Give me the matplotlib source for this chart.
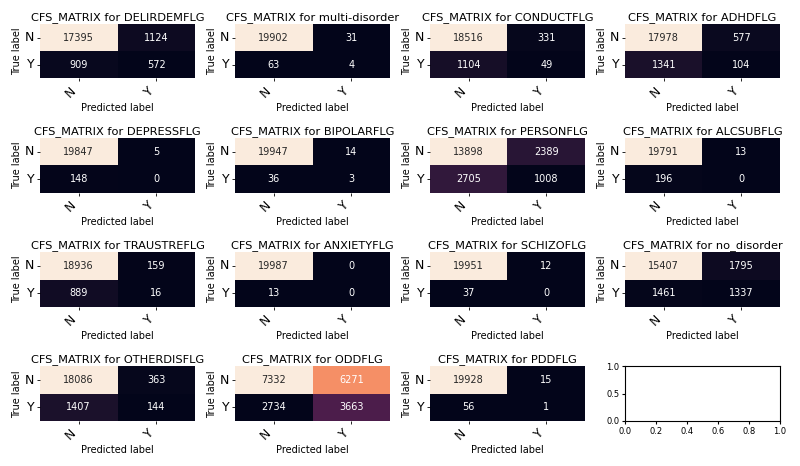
import matplotlib
matplotlib.use("Agg")
import matplotlib.pyplot as plt
import numpy as np
import seaborn as sns

# confusion matrices: [[TN, FP], [FN, TP]]
names = [
    "DELIRDEMFLG", "multi-disorder", "CONDUCTFLG", "ADHDFLG",
    "DEPRESSFLG", "BIPOLARFLG", "PERSONFLG", "ALCSUBFLG",
    "TRAUSTREFLG", "ANXIETYFLG", "SCHIZOFLG", "no_disorder",
    "OTHERDISFLG", "ODDFLG", "PDDFLG",
]
tn = [17395, 19902, 18516, 17978, 19847, 19947, 13898, 19791,
      18936, 19987, 19951, 15407, 18086, 7332, 19928]
fp = [1124, 31, 331, 577, 5, 14, 2389, 13,
      159, 0, 12, 1795, 363, 6271, 15]
fn = [909, 63, 1104, 1341, 148, 36, 2705, 196,
      889, 13, 37, 1461, 1407, 2734, 56]
tp = [572, 4, 49, 104, 0, 3, 1008, 0,
      16, 0, 0, 1337, 144, 3663, 1]
class_labels = ["N", "Y"]

fig, axes = plt.subplots(4, 4, figsize=(8.0, 4.66), dpi=100)
axes = axes.flatten()

for i, name in enumerate(names):
    ax = axes[i]
    cm = np.array([[tn[i], fp[i]], [fn[i], tp[i]]])
    sns.heatmap(cm, annot=True, fmt="d", cbar=False, ax=ax,
                xticklabels=class_labels, yticklabels=class_labels,
                annot_kws={"fontsize": 7})
    ax.set_title(f"CFS_MATRIX for {name}", fontsize=8.2, pad=3)
    ax.set_ylabel("True label", fontsize=7, labelpad=2)
    ax.set_xlabel("Predicted label", fontsize=7, labelpad=2)
    ax.set_yticklabels(class_labels, rotation=0, fontsize=9)
    ax.set_xticklabels(class_labels, rotation=45, ha="right", fontsize=9)
    ax.tick_params(length=2.5, width=0.6, pad=1.5)

# leftover axis stays as an empty default plot
axes[-1].tick_params(labelsize=6, length=2.5, pad=1.5)

fig.subplots_adjust(left=0.05, right=0.975, top=0.9485, bottom=0.0966,
                    wspace=0.258, hspace=1.095)
fig.savefig("out.png", dpi=100)
